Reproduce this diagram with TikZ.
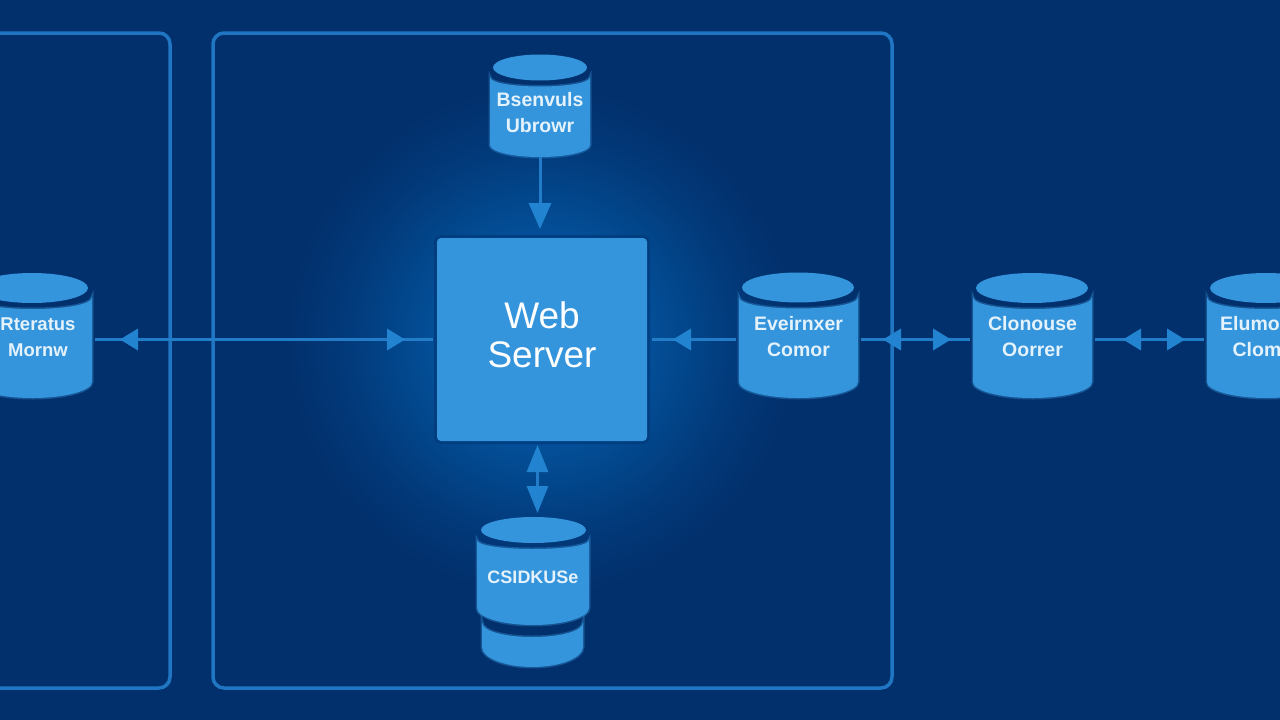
\documentclass[tikz,border=0pt]{standalone}
\usepackage{fontspec}
\setmainfont{Liberation Sans}
\usetikzlibrary{arrows.meta,decorations.markings}
\definecolor{bgblue}{RGB}{2,48,108}
\definecolor{glowa}{RGB}{3,78,150}
\definecolor{glowb}{RGB}{2,68,136}
\definecolor{glowc}{RGB}{2,56,120}
\definecolor{shadowcol}{RGB}{2,58,122}
\definecolor{linecol}{RGB}{32,118,194}
\definecolor{conncol}{RGB}{34,124,200}
\definecolor{tipcol}{RGB}{34,132,208}
\definecolor{cylcol}{RGB}{52,148,220}
\definecolor{edgecol}{RGB}{70,170,240}
\definecolor{txtcol}{RGB}{228,242,252}
\pgfdeclareradialshading{srvglow}{\pgfpointorigin}{color(0bp)=(glowa); color(11bp)=(glowa); color(15bp)=(glowb); color(20bp)=(glowc); color(25bp)=(bgblue); color(50bp)=(bgblue)}
\tikzset{
  framebox/.style={draw=linecol,line width=3.5pt,rounded corners=11pt},
  cylfill/.style={fill=cylcol},
  cylglow/.style={draw=edgecol,line width=3pt,opacity=.3},
  cyllabel/.style={inner sep=0pt,outer sep=0pt,align=center,text=txtcol,font=\bfseries\fontsize{19.5}{26}\selectfont},
  server/.style={preaction={draw=shadowcol,line width=6pt,opacity=.7},fill=cylcol,rounded corners=4pt,inner sep=0pt,outer sep=0pt,minimum width=210pt,minimum height=203pt,align=center,text=white,font=\fontsize{37}{39}\selectfont},
  conn/.style={draw=conncol,line width=3pt},
  endtips/.style={conn,{Triangle[length=27pt,width=21pt,color=tipcol]}-{Triangle[length=27pt,width=21pt,color=tipcol]}},
  downtip/.style={conn,-{Triangle[length=26pt,width=22pt,color=tipcol]}},
}
% arrow heads standing on a connector: tip at the marked point
\newcommand\tipF{\fill[tipcol] (0pt,0pt)--(-18pt,11pt)--(-18pt,-11pt)--cycle;}
\newcommand\tipB{\fill[tipcol] (0pt,0pt)--(18pt,11pt)--(18pt,-11pt)--cycle;}
% cx, body half width, ellipse half width, ellipse cy, ellipse ry, side top, side bottom, bottom
\newcommand\cylpart[8]{%
  \pgfmathsetmacro\xl{#1-#2}\pgfmathsetmacro\xr{#1+#2}%
  \pgfmathsetmacro\ym{#4+#5+6}\pgfmathsetmacro\yc{#6+(\ym-#6)*4/3}%
  \pgfmathsetmacro\yk{#7+(#8-#7)*.55}\pgfmathsetmacro\xa{#1-#2*.55}\pgfmathsetmacro\xb{#1+#2*.55}%
  \def\bodypath{(\xl,#6) .. controls (\xl,\yc) and (\xr,\yc) .. (\xr,#6) -- (\xr,#7) .. controls (\xr,\yk) and (\xb,#8) .. (#1,#8) .. controls (\xa,#8) and (\xl,\yk) .. (\xl,#7) -- cycle}%
  \path[cylglow] \bodypath;
  \path[cylfill] \bodypath;
}
\newcommand\cyllid[4]{%
  \path[cylfill] (#1,#3) ellipse [x radius=#2pt,y radius=#4pt];
}
\begin{document}
\begin{tikzpicture}[x=1pt,y=-1pt]
\useasboundingbox (0,0) rectangle (1280,720);
\clip (0,0) rectangle (1280,720);
\fill[bgblue] (0,0) rectangle (1280,720);
\shade[shading=srvglow] (541,340) circle [radius=255pt];
% frames
\draw[framebox] (-30,33) rectangle (170,688);
\draw[framebox] (213,33) rectangle (892,688);
% cylinders
\cylpart{540}{50}{47}{67.5}{13}{77}{145}{157}\cyllid{540}{47}{67.5}{13}
\cylpart{798.5}{59.5}{56}{287.5}{15}{297}{382}{398}\cyllid{798}{56}{287.5}{15}
\cylpart{1032.5}{59.5}{56}{288}{15}{297}{382}{398}\cyllid{1032}{56}{288}{15}
\cylpart{1266.5}{59.5}{56}{288}{15}{297}{382}{398}\cyllid{1266}{56}{288}{15}
\cylpart{32.5}{59.5}{56}{288}{15}{297}{382}{398}\cyllid{32}{56}{288}{15}
\cylpart{532.5}{50.5}{50.5}{630}{1}{622}{647}{667}
\cylpart{533}{56}{52.5}{530}{13}{540}{608}{625}\cyllid{533.5}{52.5}{530}{13}
% labelled nodes
\node[cyllabel,minimum width=100pt,minimum height=89pt] (ctop) at (540,112.5) {Bsenvuls\\Ubrowr};
\node[cyllabel,minimum width=119pt,minimum height=122pt] (cright) at (798.5,337) {Eveirnxer\\Comor};
\node[cyllabel,minimum width=119pt,minimum height=122pt] (cthree) at (1032.5,337) {Clonouse\\Oorrer};
\node[cyllabel,minimum width=119pt,minimum height=122pt] (cfour) at (1266.5,337) {\hspace*{-33pt}Elumo\\\hspace*{-19pt}Clom};
\node[cyllabel,minimum width=119pt,minimum height=122pt,font=\bfseries\fontsize{18.5}{26}\selectfont] (cleft) at (32.5,337) {\hspace*{11pt}Rteratus\\\hspace*{11pt}Mornw};
\node[cyllabel,minimum width=112pt,minimum height=150pt,font=\bfseries\fontsize{18}{26}\selectfont] (cbot) at (533,592) {\raisebox{9pt}[0pt][0pt]{CSIDKUSe}};
\node[server] (web) at (542,339.5) {\raisebox{-8.5pt}[0pt][0pt]{Web}\\\raisebox{-8.5pt}[0pt][0pt]{Server}};
% connectors
\draw[downtip,shorten >=9pt] (ctop.south) -- (ctop.south |- web.north);
\draw[endtips,shorten <=4pt,shorten >=4pt] (web.south -| cbot.north) ++(4.5,0) coordinate (wsb) (wsb) -- (wsb |- cbot.north);
\draw[conn,shorten <=3pt,shorten >=4pt,
  postaction={decorate,decoration={markings,
    mark=at position 28pt with {\tipB},
    mark=at position 313pt with {\tipF}}}]
  (cleft.east |- web.west) -- (web.west);
\draw[conn,shorten <=5pt,shorten >=3pt,
  postaction={decorate,decoration={markings,
    mark=at position 26pt with {\tipB}}}]
  (web.east) -- (web.east -| cright.west);
\draw[conn,shorten <=3pt,shorten >=3pt,
  postaction={decorate,decoration={markings,
    mark=at position 25pt with {\tipB},
    mark=at position 93pt with {\tipF}}}]
  (cright.east |- web.east) -- (cthree.west |- web.east);
\draw[conn,shorten <=3pt,shorten >=3pt,
  postaction={decorate,decoration={markings,
    mark=at position 31pt with {\tipB},
    mark=at position 93pt with {\tipF}}}]
  (cthree.east |- web.east) -- (cfour.west |- web.east);
\end{tikzpicture}
\end{document}
